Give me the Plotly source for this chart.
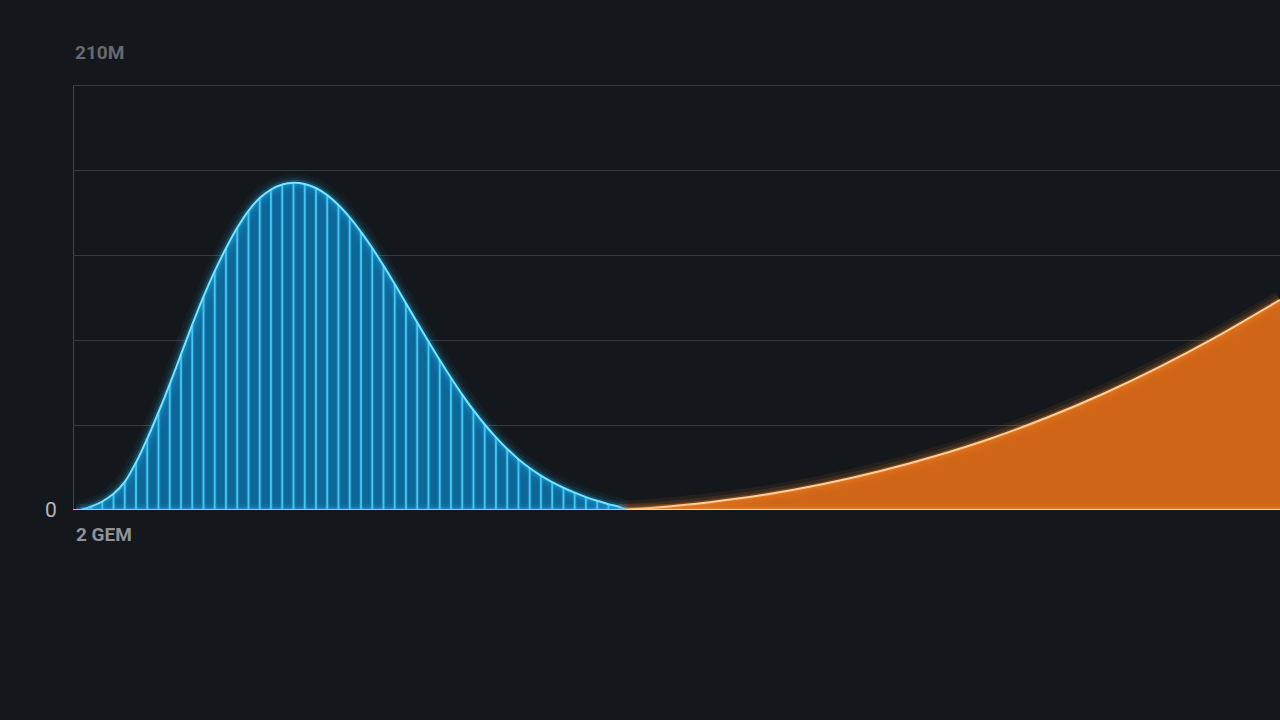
import plotly.graph_objects as go

# ---- data ----
blue_x = list(range(0, 48))
blue_y = [2, 5, 9.5, 16.5, 28, 42, 57.5, 74, 91.5, 109, 125.5, 140.5, 154, 166,
          176, 183.5, 188.5, 191.5, 192.5, 191.8, 189.4, 185.2, 179.4, 172.1,
          163.6, 154.1, 143.8, 132.9, 121.6, 110.3, 99.1, 88.2, 77.8, 67.9, 58.7,
          50.3, 42.7, 35.9, 29.9, 24.7, 20.2, 16.4, 13.1, 10.2, 7.6, 5.4, 3.4, 1.8]
blue_start = -0.9
blue_end = 47.6

orange_x = [47, 50, 55, 60, 65, 70, 75, 80, 85, 90, 95, 100, 105.7]
orange_y = [0, 1.35, 4.6, 9.1, 15.1, 22.6, 31.6, 42.1, 54.4, 68.4, 84.2, 101.7, 123.6]

y_grid = [50, 100, 150, 200, 250]
label_top = "210M"
label_zero = "0"
label_bottom = "2 GEM"

X_MIN, X_MAX = -1.6, 105.7
Y_MAX = 250 * 435 / 425

bg = "#14181c"
curve_x = [blue_start] + blue_x + [blue_end]
curve_y = [0] + blue_y + [0]

# stripe segments built from the blue series
stripe_x, stripe_y = [], []
for xv, yv in zip(blue_x, blue_y):
    stripe_x += [xv, xv, None]
    stripe_y += [0, yv, None]

fig = go.Figure()

# blue filled area
fig.add_trace(go.Scatter(x=curve_x, y=curve_y, mode="lines",
                         line=dict(color="rgba(0,0,0,0)", width=0, shape="spline", smoothing=0.8),
                         fill="tozeroy", fillcolor="#0d6798", hoverinfo="skip"))
# stripes
fig.add_trace(go.Scatter(x=stripe_x, y=stripe_y, mode="lines",
                         line=dict(color="rgba(70,200,255,0.18)", width=4), hoverinfo="skip"))
fig.add_trace(go.Scatter(x=stripe_x, y=stripe_y, mode="lines",
                         line=dict(color="#45c8f4", width=1.8), hoverinfo="skip"))

# orange filled area
fig.add_trace(go.Scatter(x=orange_x, y=orange_y, mode="lines",
                         line=dict(color="rgba(0,0,0,0)", width=0, shape="spline", smoothing=0.8),
                         fill="tozeroy", fillcolor="#cf6516", hoverinfo="skip"))

# glow layers for blue outline
for w, a in [(18, 0.05), (11, 0.09), (6, 0.20)]:
    fig.add_trace(go.Scatter(x=curve_x, y=curve_y, mode="lines",
                             line=dict(color=f"rgba(40,190,255,{a})", width=w, shape="spline", smoothing=0.8),
                             hoverinfo="skip"))
fig.add_trace(go.Scatter(x=curve_x, y=curve_y, mode="lines",
                         line=dict(color="#74e6ff", width=2, shape="spline", smoothing=0.8),
                         hoverinfo="skip"))

# glow for orange outline
for w, a in [(18, 0.07), (11, 0.12), (5, 0.25)]:
    fig.add_trace(go.Scatter(x=orange_x, y=orange_y, mode="lines",
                             line=dict(color=f"rgba(255,140,40,{a})", width=w, shape="spline", smoothing=0.8),
                             hoverinfo="skip"))
fig.add_trace(go.Scatter(x=orange_x, y=orange_y, mode="lines",
                         line=dict(color="#ffcf9a", width=2, shape="spline", smoothing=0.8),
                         hoverinfo="skip"))

# baselines
for w, a in [(12, 0.10), (6, 0.25)]:
    fig.add_trace(go.Scatter(x=[X_MIN + 0.3, blue_end], y=[0, 0], mode="lines",
                             line=dict(color=f"rgba(40,190,255,{a})", width=w), hoverinfo="skip"))
    fig.add_trace(go.Scatter(x=[blue_end, X_MAX], y=[0, 0], mode="lines",
                             line=dict(color=f"rgba(255,150,60,{a})", width=w), hoverinfo="skip"))
fig.add_trace(go.Scatter(x=[X_MIN, blue_end], y=[0, 0], mode="lines",
                         line=dict(color="#6fdcff", width=2), hoverinfo="skip"))
fig.add_trace(go.Scatter(x=[blue_end, X_MAX], y=[0, 0], mode="lines",
                         line=dict(color="#ffd6a8", width=2), hoverinfo="skip"))

# left axis line
fig.add_shape(type="line", x0=X_MIN, x1=X_MIN, y0=0, y1=y_grid[-1],
              line=dict(color="#50555a", width=1.5), layer="below")

fig.add_annotation(x=0, y=1, xref="paper", yref="paper", text=label_top, showarrow=False,
                   xanchor="left", yanchor="bottom", yshift=9,
                   font=dict(family="Roboto", size=19, color="#656a70", weight="bold"))
fig.add_annotation(x=X_MIN, y=0, xref="x", yref="y", text=label_zero, showarrow=False,
                   xanchor="right", yanchor="middle", xshift=-14,
                   font=dict(family="Roboto", size=21, color="#b4b8bc"))
fig.add_annotation(x=X_MIN, y=0, xref="x", yref="y", text=label_bottom, showarrow=False,
                   xanchor="left", yanchor="top", yshift=-11, xshift=1,
                   font=dict(family="Roboto", size=19, color="#8f9398", weight="bold"))

fig.update_layout(
    width=1280, height=720,
    paper_bgcolor=bg, plot_bgcolor=bg,
    margin=dict(l=73, r=0, t=75, b=210),
    showlegend=False,
    xaxis=dict(range=[X_MIN, X_MAX], showgrid=False, zeroline=False, showticklabels=False,
               showline=False, fixedrange=True),
    yaxis=dict(range=[0, Y_MAX], tickvals=y_grid, showgrid=True, gridcolor="#353a3f", gridwidth=1.2,
               zeroline=False, showticklabels=False, showline=False, fixedrange=True),
)

fig.write_html("out.html", config={"displayModeBar": False},
               post_script="document.body.style.margin='0';document.body.style.overflow='hidden';"
                           "document.body.style.background='#14181c';")
